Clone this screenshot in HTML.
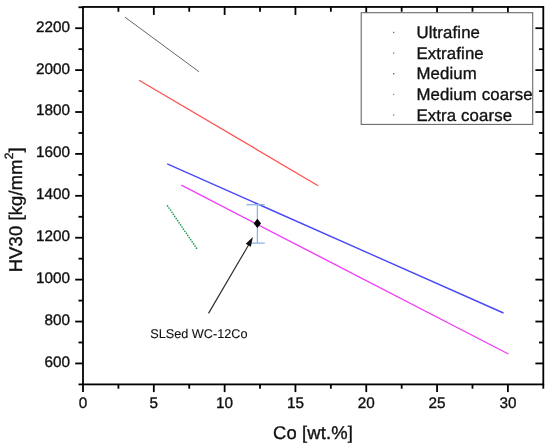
<!DOCTYPE html><html><head><meta charset="utf-8"><style>html,body{margin:0;padding:0;background:#fff;}svg{display:block;}text{font-family:"Liberation Sans",Arial,sans-serif;fill:#111;stroke:#111;stroke-width:0.35px;text-rendering:geometricPrecision;}</style></head><body>
<svg width="550" height="447" viewBox="0 0 550 447">
<rect width="550" height="447" fill="#fff"/>
<line x1="124.97" y1="17.2" x2="199.1" y2="71.8" stroke="#666" stroke-width="1.0" />
<line x1="139.0" y1="80.2" x2="318.2" y2="185.7" stroke="#ff5050" stroke-width="1.3" />
<line x1="167.2" y1="163.9" x2="503.5" y2="313.0" stroke="#4848fa" stroke-width="1.4" />
<line x1="181.4" y1="185.2" x2="508.4" y2="354.0" stroke="#f040f8" stroke-width="1.4" />
<line x1="167.55" y1="205.9" x2="196.6" y2="248.3" stroke="#1f9f55" stroke-width="1.7" stroke-linecap="round" stroke-dasharray="0 2.56"/>
<g stroke="#8fb3e6" stroke-width="1.3" fill="none"><line x1="257.4" y1="204.7" x2="257.4" y2="243.1"/><line x1="246.5" y1="204.7" x2="264.8" y2="204.7"/><line x1="249" y1="243.1" x2="264.8" y2="243.1"/></g>
<polygon points="257.4,218.8 261.1,223.4 257.4,228 253.7,223.4" fill="#000"/>
<line x1="208.5" y1="313.4" x2="250.2" y2="242.2" stroke="#2a2a2a" stroke-width="1.15"/>
<polygon points="252.9,236.9 250.8,246.7 245.7,243.7" fill="#111"/>
<text x="150.2" y="337.8" font-size="12.7" style="stroke-width:0.1px">SLSed WC-12Co</text>
<g stroke="#000" stroke-width="1.8" fill="none">
<rect x="83.0" y="6.95" width="460.30" height="377.45"/>
<line x1="83.00" y1="384.4" x2="83.00" y2="392.10"/>
<line x1="118.41" y1="384.4" x2="118.41" y2="388.70"/>
<line x1="118.41" y1="6.95" x2="118.41" y2="11.75"/>
<line x1="153.81" y1="384.4" x2="153.81" y2="392.10"/>
<line x1="153.81" y1="6.95" x2="153.81" y2="14.95"/>
<line x1="189.22" y1="384.4" x2="189.22" y2="388.70"/>
<line x1="189.22" y1="6.95" x2="189.22" y2="11.75"/>
<line x1="224.63" y1="384.4" x2="224.63" y2="392.10"/>
<line x1="224.63" y1="6.95" x2="224.63" y2="14.95"/>
<line x1="260.04" y1="384.4" x2="260.04" y2="388.70"/>
<line x1="260.04" y1="6.95" x2="260.04" y2="11.75"/>
<line x1="295.44" y1="384.4" x2="295.44" y2="392.10"/>
<line x1="295.44" y1="6.95" x2="295.44" y2="14.95"/>
<line x1="330.85" y1="384.4" x2="330.85" y2="388.70"/>
<line x1="330.85" y1="6.95" x2="330.85" y2="11.75"/>
<line x1="366.26" y1="384.4" x2="366.26" y2="392.10"/>
<line x1="366.26" y1="6.95" x2="366.26" y2="14.95"/>
<line x1="401.67" y1="384.4" x2="401.67" y2="388.70"/>
<line x1="401.67" y1="6.95" x2="401.67" y2="11.75"/>
<line x1="437.07" y1="384.4" x2="437.07" y2="392.10"/>
<line x1="437.07" y1="6.95" x2="437.07" y2="14.95"/>
<line x1="472.48" y1="384.4" x2="472.48" y2="388.70"/>
<line x1="472.48" y1="6.95" x2="472.48" y2="11.75"/>
<line x1="507.89" y1="384.4" x2="507.89" y2="392.10"/>
<line x1="507.89" y1="6.95" x2="507.89" y2="14.95"/>
<line x1="543.30" y1="384.4" x2="543.30" y2="388.70"/>
<line x1="83.0" y1="384.40" x2="78.50" y2="384.40"/>
<line x1="83.0" y1="363.45" x2="75.20" y2="363.45"/>
<line x1="543.30" y1="363.45" x2="535.40" y2="363.45"/>
<line x1="83.0" y1="342.49" x2="78.50" y2="342.49"/>
<line x1="543.30" y1="342.49" x2="539.00" y2="342.49"/>
<line x1="83.0" y1="321.54" x2="75.20" y2="321.54"/>
<line x1="543.30" y1="321.54" x2="535.40" y2="321.54"/>
<line x1="83.0" y1="300.59" x2="78.50" y2="300.59"/>
<line x1="543.30" y1="300.59" x2="539.00" y2="300.59"/>
<line x1="83.0" y1="279.63" x2="75.20" y2="279.63"/>
<line x1="543.30" y1="279.63" x2="535.40" y2="279.63"/>
<line x1="83.0" y1="258.68" x2="78.50" y2="258.68"/>
<line x1="543.30" y1="258.68" x2="539.00" y2="258.68"/>
<line x1="83.0" y1="237.73" x2="75.20" y2="237.73"/>
<line x1="543.30" y1="237.73" x2="535.40" y2="237.73"/>
<line x1="83.0" y1="216.78" x2="78.50" y2="216.78"/>
<line x1="543.30" y1="216.78" x2="539.00" y2="216.78"/>
<line x1="83.0" y1="195.82" x2="75.20" y2="195.82"/>
<line x1="543.30" y1="195.82" x2="535.40" y2="195.82"/>
<line x1="83.0" y1="174.87" x2="78.50" y2="174.87"/>
<line x1="543.30" y1="174.87" x2="539.00" y2="174.87"/>
<line x1="83.0" y1="153.92" x2="75.20" y2="153.92"/>
<line x1="543.30" y1="153.92" x2="535.40" y2="153.92"/>
<line x1="83.0" y1="132.96" x2="78.50" y2="132.96"/>
<line x1="543.30" y1="132.96" x2="539.00" y2="132.96"/>
<line x1="83.0" y1="112.01" x2="75.20" y2="112.01"/>
<line x1="543.30" y1="112.01" x2="535.40" y2="112.01"/>
<line x1="83.0" y1="91.06" x2="78.50" y2="91.06"/>
<line x1="543.30" y1="91.06" x2="539.00" y2="91.06"/>
<line x1="83.0" y1="70.10" x2="75.20" y2="70.10"/>
<line x1="543.30" y1="70.10" x2="535.40" y2="70.10"/>
<line x1="83.0" y1="49.15" x2="78.50" y2="49.15"/>
<line x1="543.30" y1="49.15" x2="539.00" y2="49.15"/>
<line x1="83.0" y1="28.20" x2="75.20" y2="28.20"/>
<line x1="543.30" y1="28.20" x2="535.40" y2="28.20"/>
<line x1="83.0" y1="7.25" x2="78.50" y2="7.25"/>
</g>
<text x="83.00" y="408.2" font-size="15.3" text-anchor="middle">0</text>
<text x="153.81" y="408.2" font-size="15.3" text-anchor="middle">5</text>
<text x="224.63" y="408.2" font-size="15.3" text-anchor="middle">10</text>
<text x="295.44" y="408.2" font-size="15.3" text-anchor="middle">15</text>
<text x="366.26" y="408.2" font-size="15.3" text-anchor="middle">20</text>
<text x="437.07" y="408.2" font-size="15.3" text-anchor="middle">25</text>
<text x="507.89" y="408.2" font-size="15.3" text-anchor="middle">30</text>
<text x="70.0" y="366.85" font-size="15.3" text-anchor="end">600</text>
<text x="70.0" y="324.94" font-size="15.3" text-anchor="end">800</text>
<text x="70.0" y="283.03" font-size="15.3" text-anchor="end">1000</text>
<text x="70.0" y="241.13" font-size="15.3" text-anchor="end">1200</text>
<text x="70.0" y="199.22" font-size="15.3" text-anchor="end">1400</text>
<text x="70.0" y="157.32" font-size="15.3" text-anchor="end">1600</text>
<text x="70.0" y="115.41" font-size="15.3" text-anchor="end">1800</text>
<text x="70.0" y="73.50" font-size="15.3" text-anchor="end">2000</text>
<text x="70.0" y="31.60" font-size="15.3" text-anchor="end">2200</text>
<text x="273" y="439.1" font-size="18.4" letter-spacing="0.15">Co [wt.%]</text>
<text transform="translate(22.1,272.3) rotate(-90)" font-size="18.4" letter-spacing="0.14">HV30 [kg/mm<tspan dy="-9" font-size="12">2</tspan><tspan dy="9">]</tspan></text>
<rect x="361.2" y="12.7" width="171.5" height="111.7" fill="#fff" stroke="#6a6a6a" stroke-width="1.1"/>
<rect x="393" y="31.80" width="1.3" height="1.3" fill="#666"/>
<text x="416.5" y="38.00" font-size="16.8" letter-spacing="0.12">Ultrafine</text>
<rect x="393" y="52.45" width="1.3" height="1.3" fill="#ff4a4a"/>
<text x="416.5" y="58.65" font-size="16.8" letter-spacing="0.12">Extrafine</text>
<rect x="393" y="73.10" width="1.3" height="1.3" fill="#4a4aff"/>
<text x="416.5" y="79.30" font-size="16.8" letter-spacing="0.12">Medium</text>
<rect x="393" y="93.75" width="1.3" height="1.3" fill="#ff40ff"/>
<text x="416.5" y="99.95" font-size="16.8" letter-spacing="0.12">Medium coarse</text>
<rect x="393" y="114.40" width="1.3" height="1.3" fill="#2aa860"/>
<text x="416.5" y="120.60" font-size="16.8" letter-spacing="0.12">Extra coarse</text>
</svg></body></html>
